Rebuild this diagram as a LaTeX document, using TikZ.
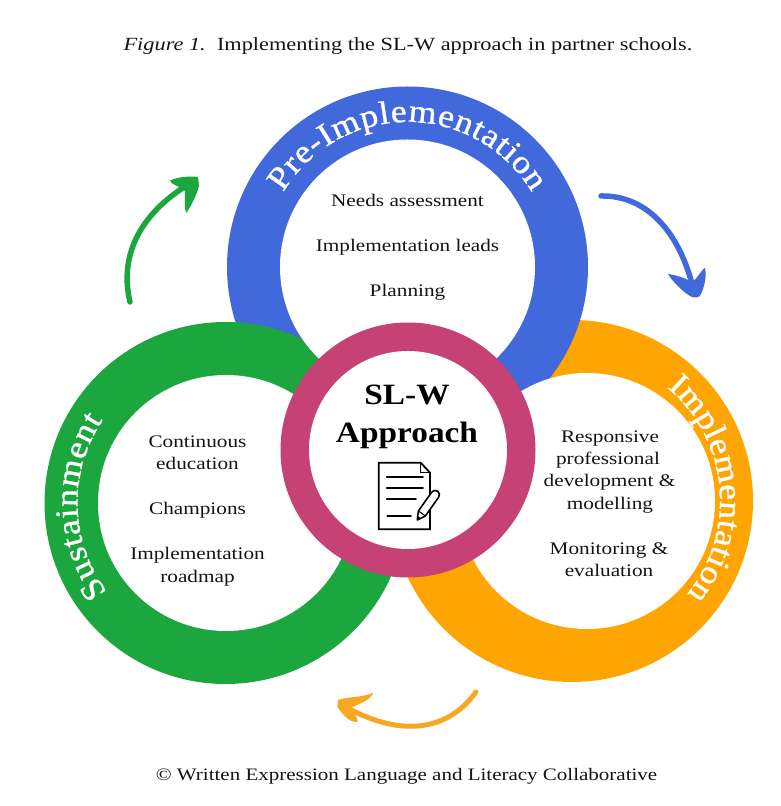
\documentclass[tikz,border=0pt]{standalone}
\usepackage{fontspec}
\setmainfont{Liberation Serif}[FakeStretch=1.2]
\newfontfamily\ringfam{Liberation Serif}[FakeStretch=1.1,FakeBold=1]
\newfontfamily\centerfam{Liberation Serif}[FakeStretch=1.13]
\usetikzlibrary{decorations.text}
\definecolor{blueR}{HTML}{4169DC}
\definecolor{greenR}{HTML}{1CA63E}
\definecolor{orangeR}{HTML}{FFA502}
\definecolor{pinkR}{HTML}{C64274}
\definecolor{orangeA}{HTML}{F7A823}
\definecolor{inkR}{HTML}{141414}
\newcommand{\ringfont}{\ringfam\fontsize{32.5}{33}\selectfont\color{white}}
\tikzset{
  bodytext/.style={anchor=base,inner sep=0pt,text=inkR,font=\fontsize{17.7}{20}\selectfont},
  centertext/.style={anchor=base,inner sep=0pt,text=black,font=\centerfam\fontsize{29.5}{32}\selectfont\bfseries},
  captext/.style={anchor=base,inner sep=0pt,text=inkR,font=\fontsize{17.5}{20}\selectfont},
  titletext/.style={anchor=base,inner sep=0pt,text=inkR,font=\fontsize{18.6}{20}\selectfont},
  ringtext/.style={decorate,decoration={text along path,text align=fit to path,text={#1}}},
  hand/.style={line width=#1,line cap=round},
  docline/.style={line width=1.7pt,black,line cap=round}
}
\begin{document}
\begin{tikzpicture}[x=1pt,y=1pt]
\useasboundingbox (0,0) rectangle (780,806);
\fill[white] (0,0) rectangle (780,806);
\coordinate (cb) at (407.5,539);
\coordinate (cg) at (225.5,303);
\coordinate (cgi) at (226,303);
\coordinate (co) at (572,305);
\coordinate (coi) at (587,305);
\coordinate (cp) at (408,356);
% rings
\fill[orangeR] (co) circle[radius=181];
\fill[blueR] (cb) circle[radius=180.5];
\fill[greenR] (cg) circle[radius=181];
\fill[white] (cb) circle[radius=127.5];
\fill[white] (coi) circle[radius=128];
\fill[white] (cgi) circle[radius=128];
\fill[pinkR] (cp) circle[radius=127.5];
\fill[white] (cp) circle[radius=99];
% ring labels
\path[ringtext={|\ringfont|Pre-Implementation}] ([shift=(149:145)]cb) arc[start angle=149,end angle=31,radius=145];
\path[ringtext={|\ringfont|Sustainment}] ([shift=(217:148)]cg) arc[start angle=217,end angle=146,radius=148];
\path[ringtext={|\ringfont|Implementation}] ([shift=(50:148)]co) arc[start angle=50,end angle=-39,radius=148];
% title and footer
\node[titletext] (title) at (408,755.5) {\textit{Figure 1.}\ \ Implementing the SL-W approach in partner schools.};
\node[captext] (foot) at (406.5,25.5) {© Written Expression Language and Literacy Collaborative};
% blue list
\node[bodytext] (b1) at (407.5,599) {Needs assessment};
\node[bodytext] (b2) at (407.5,554) {Implementation leads};
\node[bodytext] (b3) at (407.5,509) {Planning};
% green list
\node[bodytext] (g1) at (197.5,358) {Continuous};
\node[bodytext] (g2) at (197.5,336) {education};
\node[bodytext] (g3) at (197.5,291) {Champions};
\node[bodytext] (g4) at (197.5,246) {Implementation};
\node[bodytext] (g5) at (197.5,223) {roadmap};
% orange list
\node[bodytext] (o1) at (610,363) {Responsive};
\node[bodytext] (o2) at (608,341) {professional};
\node[bodytext] (o3) at (609.5,319) {development \&};
\node[bodytext] (o4) at (610,296) {modelling};
\node[bodytext] (o5) at (609,251) {Monitoring \&};
\node[bodytext] (o6) at (609,229) {evaluation};
% centre
\node[centertext] (c1) at (407,401) {SL-W};
\node[centertext] (c2) at (407,363) {Approach};
% document icon
\draw[line width=1.8pt,black,line join=miter,fill=white] (378.7,343.3) -- (420.7,343.3) -- (430,333.3) -- (430,276.7) -- (378.7,276.7) -- cycle;
\draw[line width=1.2pt,black] (420.7,343.3) -- (420.7,333.3) -- (430,333.3);
\draw[docline] (386.7,328.7) -- (423,328.7);
\draw[docline] (386.7,317.7) -- (423,317.7);
\draw[docline] (386.7,307) -- (416,307);
\draw[docline] (387.3,290.3) -- (411,290.3);
\begin{scope}[shift={(417.3,286)},rotate=54.8]
\draw[line width=1.6pt,black,fill=white,line join=round] (0,0) -- (8,-4.3) -- (31,-4.3) arc[start angle=-90,end angle=90,radius=4.3] -- (8,4.3) -- cycle;
\draw[line width=1.1pt,black] (8,-4.3) -- (8,4.3);
\fill[black] (0,0) -- (3.5,-2) -- (3.5,2) -- cycle;
\end{scope}
% green arrow
\coordinate (gs) at (130,504);
\coordinate (ge) at (194,625);
\draw[hand=5.5pt,greenR] (gs) .. controls (120,546) and (135,591) .. (ge);
\fill[greenR] (198,629) .. controls (188,630) and (178,629) .. (170,625.5) .. controls (171,621) and (178,621) .. (185,615) .. controls (185,608) and (184,600) .. (186,593) .. controls (191,599) and (197,612) .. (199,620) -- cycle;
% blue arrow
\coordinate (bs) at (601,610);
\coordinate (be) at (694,514);
\draw[hand=5.5pt,blueR] (bs) .. controls (645,611) and (680,576) .. (be);
\fill[blueR] (668,532) .. controls (676,531) and (685,528) .. (692,524) .. controls (697,527) and (700,534) .. (705,538.5) .. controls (707,528) and (704,518) .. (700,510) .. controls (697,508) and (693,508) .. (690,510) .. controls (682,515) and (672,525) .. cycle;
% orange arrow
\coordinate (os) at (476,114);
\coordinate (oe) at (344,100);
\draw[hand=5pt,orangeA] (os) .. controls (445,71) and (395,71) .. (oe);
\fill[orangeA] (338,106) .. controls (350,110) and (362,108) .. (373.5,113.5) .. controls (370,105) and (360,103) .. (352,98.5) .. controls (353,94) and (358,89) .. (357.5,84) .. controls (350,83) and (343,91) .. (337.5,99) -- cycle;
\end{tikzpicture}
\end{document}
